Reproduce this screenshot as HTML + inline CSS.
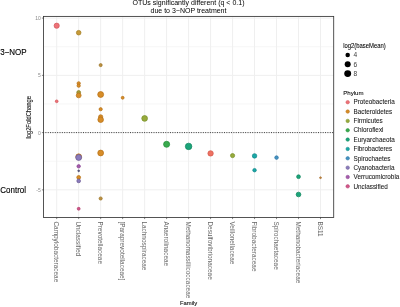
<!DOCTYPE html>
<html><head><meta charset="utf-8"><style>
html,body{margin:0;padding:0;background:#fff;width:400px;height:307px;overflow:hidden;}
svg{display:block;will-change:transform;filter:blur(0.35px);}
text{-webkit-font-smoothing:antialiased;}
</style></head><body>
<svg width="400" height="307" viewBox="0 0 400 307" font-family='"Liberation Sans", sans-serif'>
<rect width="400" height="307" fill="#fff"/>
<line x1="43.5" x2="333.7" y1="46.72" y2="46.72" stroke="#f0f0f0" stroke-width="0.6"/>
<line x1="43.5" x2="333.7" y1="103.97" y2="103.97" stroke="#f0f0f0" stroke-width="0.6"/>
<line x1="43.5" x2="333.7" y1="161.22" y2="161.22" stroke="#f0f0f0" stroke-width="0.6"/>
<line x1="43.5" x2="333.7" y1="18.10" y2="18.10" stroke="#efefef" stroke-width="1"/>
<line x1="43.5" x2="333.7" y1="75.35" y2="75.35" stroke="#efefef" stroke-width="1"/>
<line x1="43.5" x2="333.7" y1="132.60" y2="132.60" stroke="#efefef" stroke-width="1"/>
<line x1="43.5" x2="333.7" y1="189.85" y2="189.85" stroke="#efefef" stroke-width="1"/>
<line x1="56.69" x2="56.69" y1="16.4" y2="217.5" stroke="#efefef" stroke-width="1"/>
<line x1="78.68" x2="78.68" y1="16.4" y2="217.5" stroke="#efefef" stroke-width="1"/>
<line x1="100.66" x2="100.66" y1="16.4" y2="217.5" stroke="#efefef" stroke-width="1"/>
<line x1="122.65" x2="122.65" y1="16.4" y2="217.5" stroke="#efefef" stroke-width="1"/>
<line x1="144.63" x2="144.63" y1="16.4" y2="217.5" stroke="#efefef" stroke-width="1"/>
<line x1="166.62" x2="166.62" y1="16.4" y2="217.5" stroke="#efefef" stroke-width="1"/>
<line x1="188.60" x2="188.60" y1="16.4" y2="217.5" stroke="#efefef" stroke-width="1"/>
<line x1="210.58" x2="210.58" y1="16.4" y2="217.5" stroke="#efefef" stroke-width="1"/>
<line x1="232.57" x2="232.57" y1="16.4" y2="217.5" stroke="#efefef" stroke-width="1"/>
<line x1="254.55" x2="254.55" y1="16.4" y2="217.5" stroke="#efefef" stroke-width="1"/>
<line x1="276.54" x2="276.54" y1="16.4" y2="217.5" stroke="#efefef" stroke-width="1"/>
<line x1="298.52" x2="298.52" y1="16.4" y2="217.5" stroke="#efefef" stroke-width="1"/>
<line x1="320.51" x2="320.51" y1="16.4" y2="217.5" stroke="#efefef" stroke-width="1"/>
<line x1="43.5" x2="333.7" y1="132.6" y2="132.6" stroke="#3a3a3a" stroke-width="1" stroke-dasharray="1 1.35" stroke-dashoffset="-1.9"/>
<circle cx="56.69" cy="25.7" r="2.60" fill="#ec7378" stroke="#d4565c" stroke-width="0.7"/>
<circle cx="56.69" cy="101.3" r="1.40" fill="#ec7378" stroke="#d4565c" stroke-width="0.7"/>
<circle cx="78.68" cy="32.7" r="2.30" fill="#c69a38" stroke="#a07a1c" stroke-width="0.7"/>
<circle cx="78.68" cy="83.3" r="1.65" fill="#d78d28" stroke="#b46e14" stroke-width="0.7"/>
<circle cx="78.68" cy="85.7" r="1.65" fill="#d78d28" stroke="#b46e14" stroke-width="0.7"/>
<circle cx="78.68" cy="92.4" r="1.90" fill="#a49c3a" stroke="#867c22" stroke-width="0.7"/>
<circle cx="78.68" cy="95.4" r="2.45" fill="#d78d28" stroke="#b46e14" stroke-width="0.7"/>
<circle cx="78.68" cy="156.7" r="2.85" fill="#d78d28" stroke="#b46e14" stroke-width="0.7"/>
<circle cx="78.68" cy="157.5" r="2.95" fill="#8a7cbc" stroke="#6a5892" stroke-width="0.7"/>
<circle cx="78.68" cy="166.3" r="1.70" fill="#a65cac" stroke="#864290" stroke-width="0.7"/>
<circle cx="78.68" cy="170.8" r="0.90" fill="#5a5a80" stroke="#44446a" stroke-width="0.7"/>
<circle cx="78.68" cy="177.4" r="1.90" fill="#d78d28" stroke="#b46e14" stroke-width="0.7"/>
<circle cx="78.68" cy="180.9" r="1.85" fill="#8a7cbc" stroke="#6a5892" stroke-width="0.7"/>
<circle cx="78.68" cy="208.8" r="1.45" fill="#d2578a" stroke="#b03c6c" stroke-width="0.7"/>
<circle cx="100.66" cy="65.1" r="1.55" fill="#bc9040" stroke="#9a7224" stroke-width="0.7"/>
<circle cx="100.66" cy="94.5" r="2.95" fill="#d78d28" stroke="#b46e14" stroke-width="0.7"/>
<circle cx="100.66" cy="109.2" r="1.60" fill="#d78d28" stroke="#b46e14" stroke-width="0.7"/>
<circle cx="100.66" cy="116.9" r="2.15" fill="#d78d28" stroke="#b46e14" stroke-width="0.7"/>
<circle cx="100.66" cy="119.7" r="2.80" fill="#d78d28" stroke="#b46e14" stroke-width="0.7"/>
<circle cx="100.66" cy="153.0" r="2.90" fill="#d78d28" stroke="#b46e14" stroke-width="0.7"/>
<circle cx="100.66" cy="198.5" r="1.60" fill="#bc9040" stroke="#9a7224" stroke-width="0.7"/>
<circle cx="122.65" cy="97.8" r="1.45" fill="#d78d28" stroke="#b46e14" stroke-width="0.7"/>
<circle cx="144.63" cy="118.4" r="2.85" fill="#98aa3c" stroke="#76902a" stroke-width="0.7"/>
<circle cx="166.62" cy="144.3" r="3.05" fill="#3aaa4e" stroke="#208c36" stroke-width="0.7"/>
<circle cx="188.60" cy="146.4" r="3.25" fill="#1ca47a" stroke="#0d845c" stroke-width="0.7"/>
<circle cx="210.58" cy="153.4" r="2.70" fill="#ee7262" stroke="#d2564c" stroke-width="0.7"/>
<circle cx="232.57" cy="155.6" r="2.10" fill="#98aa3c" stroke="#76902a" stroke-width="0.7"/>
<circle cx="254.55" cy="155.9" r="2.25" fill="#1aa8a6" stroke="#108486" stroke-width="0.7"/>
<circle cx="254.55" cy="170.2" r="1.75" fill="#1aa8a6" stroke="#108486" stroke-width="0.7"/>
<circle cx="276.54" cy="157.6" r="1.80" fill="#4592c0" stroke="#2c76a6" stroke-width="0.7"/>
<circle cx="298.52" cy="176.7" r="1.90" fill="#1ca47a" stroke="#0d845c" stroke-width="0.7"/>
<circle cx="298.52" cy="194.5" r="2.35" fill="#1ca47a" stroke="#0d845c" stroke-width="0.7"/>
<circle cx="320.51" cy="177.7" r="0.90" fill="#c88a40" stroke="#a0682a" stroke-width="0.7"/>
<rect x="43.5" y="16.4" width="290.20" height="201.10" fill="none" stroke="#363636" stroke-width="0.85"/>
<line x1="41.9" x2="43.5" y1="18.10" y2="18.10" stroke="#333" stroke-width="0.6"/>
<text x="40.7" y="20.20" font-size="5" fill="#888" text-anchor="end">10</text>
<line x1="41.9" x2="43.5" y1="75.35" y2="75.35" stroke="#333" stroke-width="0.6"/>
<text x="40.7" y="77.45" font-size="5" fill="#888" text-anchor="end">5</text>
<line x1="41.9" x2="43.5" y1="132.60" y2="132.60" stroke="#333" stroke-width="0.6"/>
<text x="40.7" y="134.70" font-size="5" fill="#888" text-anchor="end">0</text>
<line x1="41.9" x2="43.5" y1="189.85" y2="189.85" stroke="#333" stroke-width="0.6"/>
<text x="40.7" y="191.95" font-size="5" fill="#888" text-anchor="end">-5</text>
<line x1="56.69" x2="56.69" y1="217.5" y2="219.1" stroke="#333" stroke-width="0.6"/>
<text transform="translate(54.29,221.4) rotate(90) scale(1,1.09)" font-size="6.45" fill="#666">Campylobacteraceae</text>
<line x1="78.68" x2="78.68" y1="217.5" y2="219.1" stroke="#333" stroke-width="0.6"/>
<text transform="translate(76.28,221.4) rotate(90) scale(1,1.09)" font-size="6.45" fill="#666">Unclassified</text>
<line x1="100.66" x2="100.66" y1="217.5" y2="219.1" stroke="#333" stroke-width="0.6"/>
<text transform="translate(98.26,221.4) rotate(90) scale(1,1.09)" font-size="6.45" fill="#666">Prevotellaceae</text>
<line x1="122.65" x2="122.65" y1="217.5" y2="219.1" stroke="#333" stroke-width="0.6"/>
<text transform="translate(120.25,221.4) rotate(90) scale(1,1.09)" font-size="6.45" fill="#666">[Paraprevotellaceae]</text>
<line x1="144.63" x2="144.63" y1="217.5" y2="219.1" stroke="#333" stroke-width="0.6"/>
<text transform="translate(142.23,221.4) rotate(90) scale(1,1.09)" font-size="6.45" fill="#666">Lachnospiraceae</text>
<line x1="166.62" x2="166.62" y1="217.5" y2="219.1" stroke="#333" stroke-width="0.6"/>
<text transform="translate(164.22,221.4) rotate(90) scale(1,1.09)" font-size="6.45" fill="#666">Anaerolinaceae</text>
<line x1="188.60" x2="188.60" y1="217.5" y2="219.1" stroke="#333" stroke-width="0.6"/>
<text transform="translate(186.20,221.4) rotate(90) scale(1,1.09)" font-size="6.45" fill="#666">Methanomassiliicoccaceae</text>
<line x1="210.58" x2="210.58" y1="217.5" y2="219.1" stroke="#333" stroke-width="0.6"/>
<text transform="translate(208.18,221.4) rotate(90) scale(1,1.09)" font-size="6.45" fill="#666">Desulfovibrionaceae</text>
<line x1="232.57" x2="232.57" y1="217.5" y2="219.1" stroke="#333" stroke-width="0.6"/>
<text transform="translate(230.17,221.4) rotate(90) scale(1,1.09)" font-size="6.45" fill="#666">Veillonellaceae</text>
<line x1="254.55" x2="254.55" y1="217.5" y2="219.1" stroke="#333" stroke-width="0.6"/>
<text transform="translate(252.15,221.4) rotate(90) scale(1,1.09)" font-size="6.45" fill="#666">Fibrobacteraceae</text>
<line x1="276.54" x2="276.54" y1="217.5" y2="219.1" stroke="#333" stroke-width="0.6"/>
<text transform="translate(274.14,221.4) rotate(90) scale(1,1.09)" font-size="6.45" fill="#666">Spirochaetaceae</text>
<line x1="298.52" x2="298.52" y1="217.5" y2="219.1" stroke="#333" stroke-width="0.6"/>
<text transform="translate(296.12,221.4) rotate(90) scale(1,1.09)" font-size="6.45" fill="#666">Methanobacteriaceae</text>
<line x1="320.51" x2="320.51" y1="217.5" y2="219.1" stroke="#333" stroke-width="0.6"/>
<text transform="translate(318.11,221.4) rotate(90) scale(1,1.09)" font-size="6.45" fill="#666">BS11</text>
<text x="188.6" y="305.1" font-size="5.9" text-anchor="middle" fill="#000" stroke="#000" stroke-width="0.07">Family</text>
<text transform="translate(30.6,117.3) rotate(-90)" font-size="6.6" text-anchor="middle" textLength="42.6" lengthAdjust="spacingAndGlyphs" fill="#111" stroke="#111" stroke-width="0.08">log2FoldChange</text>
<text x="188.5" y="4.85" font-size="7.02" text-anchor="middle" fill="#000">OTUs significantly different (q &lt; 0.1)</text>
<text x="188.5" y="13.2" font-size="7.0" text-anchor="middle" fill="#000">due to 3−NOP treatment</text>
<text transform="translate(0.15,55.4) scale(1,1.1)" font-size="8" fill="#000" stroke="#000" stroke-width="0.12">3−NOP</text>
<text transform="translate(0.3,192.5) scale(1,1.15)" font-size="8" fill="#000" stroke="#000" stroke-width="0.12">Control</text>
<text x="343.2" y="47.9" font-size="6.35" textLength="42.6" lengthAdjust="spacingAndGlyphs" fill="#000" stroke="#000" stroke-width="0.07">log2(baseMean)</text>
<circle cx="347.7" cy="54.9" r="2.25" fill="#000"/>
<text x="353.4" y="57.25" font-size="6.6" fill="#3a3a3a">4</text>
<circle cx="347.7" cy="64.2" r="3.0" fill="#000"/>
<text x="353.4" y="66.55" font-size="6.6" fill="#3a3a3a">6</text>
<circle cx="347.7" cy="73.6" r="3.45" fill="#000"/>
<text x="353.4" y="75.95" font-size="6.6" fill="#3a3a3a">8</text>
<text x="343.2" y="95" font-size="6.1" fill="#000" stroke="#000" stroke-width="0.07">Phylum</text>
<circle cx="347.7" cy="102.20" r="1.75" fill="#ec7378" stroke="#d4565c" stroke-width="0.5"/>
<text x="353.5" y="104.40" font-size="6.35" fill="#1a1a1a" stroke="#1a1a1a" stroke-width="0.07">Proteobacteria</text>
<circle cx="347.7" cy="111.55" r="1.75" fill="#d78d28" stroke="#b46e14" stroke-width="0.5"/>
<text x="353.5" y="113.75" font-size="6.35" fill="#1a1a1a" stroke="#1a1a1a" stroke-width="0.07">Bacteroidetes</text>
<circle cx="347.7" cy="120.90" r="1.75" fill="#98aa3c" stroke="#76902a" stroke-width="0.5"/>
<text x="353.5" y="123.10" font-size="6.35" fill="#1a1a1a" stroke="#1a1a1a" stroke-width="0.07">Firmicutes</text>
<circle cx="347.7" cy="130.25" r="1.75" fill="#3aaa4e" stroke="#208c36" stroke-width="0.5"/>
<text x="353.5" y="132.45" font-size="6.35" fill="#1a1a1a" stroke="#1a1a1a" stroke-width="0.07">Chloroflexi</text>
<circle cx="347.7" cy="139.60" r="1.75" fill="#1ca47a" stroke="#0d845c" stroke-width="0.5"/>
<text x="353.5" y="141.80" font-size="6.35" fill="#1a1a1a" stroke="#1a1a1a" stroke-width="0.07">Euryarchaeota</text>
<circle cx="347.7" cy="148.95" r="1.75" fill="#1aa8a6" stroke="#108486" stroke-width="0.5"/>
<text x="353.5" y="151.15" font-size="6.35" fill="#1a1a1a" stroke="#1a1a1a" stroke-width="0.07">Fibrobacteres</text>
<circle cx="347.7" cy="158.30" r="1.75" fill="#4592c0" stroke="#2c76a6" stroke-width="0.5"/>
<text x="353.5" y="160.50" font-size="6.35" fill="#1a1a1a" stroke="#1a1a1a" stroke-width="0.07">Spirochaetes</text>
<circle cx="347.7" cy="167.65" r="1.75" fill="#8a7cbc" stroke="#6a5892" stroke-width="0.5"/>
<text x="353.5" y="169.85" font-size="6.35" fill="#1a1a1a" stroke="#1a1a1a" stroke-width="0.07">Cyanobacteria</text>
<circle cx="347.7" cy="177.00" r="1.75" fill="#a65cac" stroke="#864290" stroke-width="0.5"/>
<text x="353.5" y="179.20" font-size="6.35" fill="#1a1a1a" stroke="#1a1a1a" stroke-width="0.07">Verrucomicrobia</text>
<circle cx="347.7" cy="186.35" r="1.75" fill="#d2578a" stroke="#b03c6c" stroke-width="0.5"/>
<text x="353.5" y="188.55" font-size="6.35" fill="#1a1a1a" stroke="#1a1a1a" stroke-width="0.07">Unclassified</text>
</svg>
</body></html>
